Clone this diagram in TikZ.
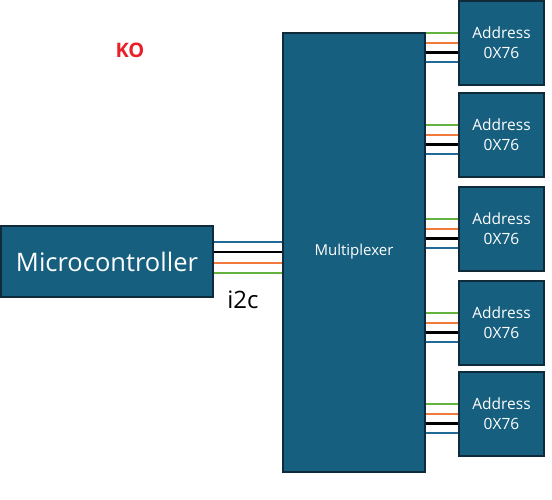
\documentclass[tikz,border=0pt]{standalone}
\usepackage{fontspec}
\setmainfont{Open Sans}

\definecolor{boxblue}{HTML}{175F7F}
\definecolor{boxedge}{HTML}{0F2B3B}
\definecolor{wireblue}{HTML}{1F6B95}
\definecolor{wireorange}{HTML}{F07A3C}
\definecolor{wiregreen}{HTML}{62B23F}
\definecolor{kored}{HTML}{E8202A}

\begin{document}
\begin{tikzpicture}[x=1pt,y=-1pt,
    block/.style={draw=boxedge, line width=1.5pt, fill=boxblue,
        text=white, inner sep=0pt, align=center},
    wire/.style={line width=2.2pt}]

    \useasboundingbox (0,0) rectangle (552,500);

    \node [kored, font=\fontsize{20}{24}\selectfont\bfseries] (ko) at (130,50) {KO};

    \node [block, minimum width=212pt, minimum height=71pt,
        font=\fontsize{25.5}{28}\selectfont] (micro) at (107,261.5) {Microcontroller};

    \node [block, minimum width=142pt, minimum height=439pt] (mux) at (354,252.5) {};
    \node [white, font=\fontsize{15}{18}\selectfont] (muxlabel) at (354,252) {Multiplexer};

    \node [font=\fontsize{24}{28}\selectfont] (i2c) at (243,300) {i2c};

    % bus from the microcontroller
    \draw [wire, wireblue]   (micro.east |- 0,242) -- (mux.west |- 0,242);
    \draw [wire, black]      (micro.east |- 0,252) -- (mux.west |- 0,252);
    \draw [wire, wireorange] (micro.east |- 0,263) -- (mux.west |- 0,263);
    \draw [wire, wiregreen]  (micro.east |- 0,273) -- (mux.west |- 0,273);

    % sensors on the multiplexer
    \foreach \n/\top in {1/1, 2/93, 3/187, 4/281, 5/372} {
        \node [block, minimum width=85pt, minimum height=84pt,
            font=\fontsize{15.5}{20}\selectfont] (addr\n) at (501.5,\top+42)
            {Address\\0X76};
        \draw [wire, wiregreen]  (mux.east |- 0,\top+32) -- (addr\n.west |- 0,\top+32);
        \draw [wire, wireorange] (mux.east |- 0,\top+42) -- (addr\n.west |- 0,\top+42);
        \draw [wire, black]      (mux.east |- 0,\top+51.5) -- (addr\n.west |- 0,\top+51.5);
        \draw [wire, wireblue]   (mux.east |- 0,\top+61) -- (addr\n.west |- 0,\top+61);
    }

\end{tikzpicture}
\end{document}
